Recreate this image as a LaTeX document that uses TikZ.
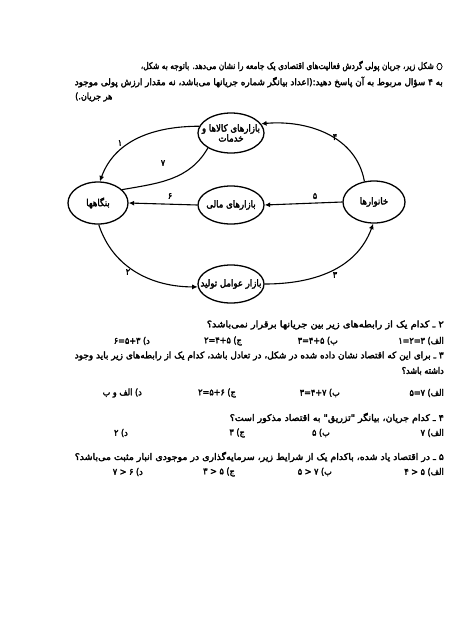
\documentclass[tikz,border=0pt]{standalone}
\usepackage{fontspec}
\usetikzlibrary{arrows.meta,shapes.geometric}
\TeXXeTstate=1
\newfontfamily\fa[Script=Arabic,FakeBold=2.8]{DejaVu Sans}
\newfontfamily\faop[FakeBold=2.8]{DejaVu Sans}
\newcommand{\Lq}[1]{{\faop\beginL #1\endL}}
\newcommand{\Vs}[1]{\scalebox{1}[1.12]{\fa #1}}
\newsavebox\fitbox
\newcommand{\FitR}[2]{\sbox\fitbox{\fa #2}\pgfmathsetmacro\fitf{#1/\the\wd\fitbox}\scalebox{\fitf}[1.12]{\usebox\fitbox}}
\tikzset{
  mkt/.style={ellipse, draw, line width=1.3pt, minimum width=66pt, minimum height=38pt, inner sep=0pt},
  lbl/.style={inner sep=0pt, align=center, font=\fontsize{8.6}{11}\selectfont},
  flow/.style={line width=1.1pt, -{Latex[length=5.5pt,width=5pt]}},
  num/.style={inner sep=0pt, font=\fontsize{8}{10}\selectfont},
  txt/.style={inner sep=0pt, font=\fontsize{8.1}{10}\selectfont}
}
\begin{document}
\begin{tikzpicture}[x=1pt,y=-1pt]
\fill[white] (0,0) rectangle (474,632);
\useasboundingbox (0,0) rectangle (474,632);
% texts
\node[txt, anchor=east] (t1) at (443,66) {\FitR{302}{\beginR ○ شکل زیر، جریان پولی گردش فعالیت‌های اقتصادی یک جامعه را نشان می‌دهد. باتوجه به شکل،\endR}};
\node[txt, anchor=east] (t2) at (443,82) {\FitR{368}{\beginR به ۴ سؤال مربوط به آن پاسخ دهید:(اعداد بیانگر شماره جریانها می‌باشد، نه مقدار ارزش پولی موجود\endR}};
\node[txt, anchor=west] (t3) at (75,97) {\Vs{\beginR هر جریان.)\endR}};
% diagram
\node[mkt, minimum height=40pt] (gm) at (231,133) {};
\node[mkt, minimum width=60pt, minimum height=42pt] (fi) at (98,203) {};
\node[mkt] (fm) at (231,205) {};
\node[mkt, minimum width=62pt, minimum height=42pt] (hh) at (374,202) {};
\node[mkt] (fp) at (231,284) {};
\node[lbl] (gmt) at (gm.center) {\Vs{\beginR بازارهای کالاها و\endR}\\[-1pt]\Vs{\beginR خدمات\endR}};
\node[lbl] (fit) at (fi.center) {\Vs{\beginR بنگاهها\endR}};
\node[lbl] (fmt) at (fm.center) {\Vs{\beginR بازارهای مالی\endR}};
\node[lbl] (hht) at (hh.center) {\Vs{\beginR خانوارها\endR}};
\node[lbl] (fpt) at (fp.center) {\Vs{\beginR بازار عوامل تولید\endR}};
\draw[flow] (hh.115) to[out=100,in=5] (gm.17);
\draw[flow] (gm.168) to[out=180,in=70] (fi.85);
\draw[line width=1.1pt] (fi.29) to[out=10,in=-120] (gm.-147);
\draw[flow] (fm.west) -- (fi.east);
\draw[flow] (hh.west) -- (fm.east);
\draw[flow] (fi.-88) to[out=-72,in=180] (fp.185);
\draw[flow] (fp.east) to[out=0,in=-110] (hh.-92);
\node[num] (n4) at (335,137) {\Vs{۴}};
\node[num] (n1) at (120,143) {\Vs{۱}};
\node[num] (n7) at (163,163) {\Vs{۷}};
\node[num] (n6) at (170,196) {\Vs{۶}};
\node[num] (n5) at (315,196) {\Vs{۵}};
\node[num] (n2) at (128,272) {\Vs{۲}};
\node[num] (n3) at (335,275) {\Vs{۳}};
% question 2
\node[txt, anchor=east] (q2) at (444,325) {\FitR{237}{\beginR ۲ ـ کدام یک از رابطه‌های زیر بین جریانها برقرار نمی‌باشد؟\endR}};
\node[txt, anchor=east] (q2a) at (444,341) {\Vs{\beginR الف) \Lq{۱=۲=۳}\endR}};
\node[txt, anchor=east] (q2b) at (338,341) {\Vs{\beginR ب) \Lq{۳=۴+۵}\endR}};
\node[txt, anchor=east] (q2c) at (242,341) {\Vs{\beginR ج) \Lq{۲=۴+۵}\endR}};
\node[txt, anchor=east] (q2d) at (150,341) {\Vs{\beginR د) \Lq{۶=۵+۳}\endR}};
% question 3
\node[txt, anchor=east] (q3) at (444,356) {\FitR{369}{\beginR ۳ ـ برای این که اقتصاد نشان داده شده در شکل، در تعادل باشد، کدام یک از رابطه‌های زیر باید وجود\endR}};
\node[txt, anchor=east] (q3l) at (444,371) {\Vs{\beginR داشته باشد؟\endR}};
\node[txt, anchor=east] (q3a) at (444,393) {\Vs{\beginR الف) \Lq{۵=۷}\endR}};
\node[txt, anchor=east] (q3b) at (340,393) {\Vs{\beginR ب) \Lq{۳=۴+۷}\endR}};
\node[txt, anchor=east] (q3c) at (236,393) {\Vs{\beginR ج) \Lq{۲=۵+۶}\endR}};
\node[txt, anchor=east] (q3d) at (142,393) {\Vs{\beginR د) الف و ب\endR}};
% question 4
\node[txt, anchor=east] (q4) at (444,418) {\FitR{214}{\beginR ۴ ـ کدام جریان، بیانگر "تزریق" به اقتصاد مذکور است؟\endR}};
\node[txt, anchor=east] (q4a) at (444,433) {\Vs{\beginR الف) \Lq{۷}\endR}};
\node[txt, anchor=east] (q4b) at (330,433) {\Vs{\beginR ب) \Lq{۵}\endR}};
\node[txt, anchor=east] (q4c) at (245,433) {\Vs{\beginR ج) \Lq{۳}\endR}};
\node[txt, anchor=east] (q4d) at (128,433) {\Vs{\beginR د) \Lq{۲}\endR}};
% question 5
\node[txt, anchor=east] (q5) at (444,457) {\FitR{369}{\beginR ۵ ـ در اقتصاد یاد شده، باکدام یک از شرایط زیر، سرمایه‌گذاری در موجودی انبار مثبت می‌باشد؟\endR}};
\node[txt, anchor=east] (q5a) at (444,472) {\Vs{\beginR الف) \Lq{۴ > ۵}\endR}};
\node[txt, anchor=east] (q5b) at (332,472) {\Vs{\beginR ب) \Lq{۵ > ۷}\endR}};
\node[txt, anchor=east] (q5c) at (235,472) {\Vs{\beginR ج) \Lq{۳ > ۵}\endR}};
\node[txt, anchor=east] (q5d) at (143,472) {\Vs{\beginR د) \Lq{۷ > ۶}\endR}};
\end{tikzpicture}
\end{document}
